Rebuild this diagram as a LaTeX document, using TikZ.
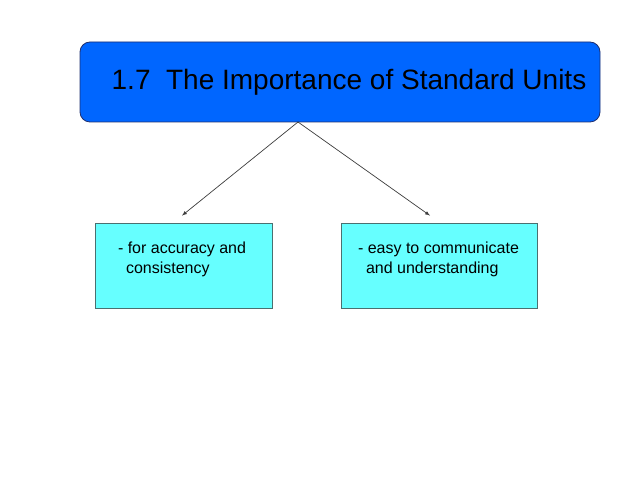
\documentclass[tikz,border=0pt]{standalone}
\usepackage{fontspec}
\setmainfont{Liberation Sans}
\usetikzlibrary{positioning}
\definecolor{titleblue}{HTML}{0066FF}
\definecolor{titleline}{HTML}{1F2F6F}
\definecolor{unitcyan}{HTML}{66FFFF}
\definecolor{unitline}{HTML}{4A7070}
\definecolor{arrowgray}{HTML}{3C3C3C}
\tikzset{
  titlebox/.style={draw=titleline, fill=titleblue, rounded corners=10pt, line width=0.8pt,
    minimum width=520pt, minimum height=80pt, inner sep=0pt,
    font=\fontsize{28pt}{34pt}\selectfont},
  unitbox/.style={draw=unitline, fill=unitcyan, line width=0.8pt,
    minimum height=85pt, inner sep=0pt, font=\fontsize{16pt}{20pt}\selectfont},
  link/.style={->, draw=arrowgray, line width=0.7pt}
}
\begin{document}
\begin{tikzpicture}[>=latex, x=1pt, y=-1pt]
    \useasboundingbox (0,0) rectangle (638,478);
    % Titel
    \node[titlebox] (title) at (340,82) {\hspace*{18pt}1.7\ \ The Importance of Standard Units};
    % Gruende
    \node[unitbox, minimum width=177pt] (accuracy) at (183.5,265.5)
        {\parbox[t][48pt][t]{131pt}{\raggedright - for accuracy and\\\hspace*{8pt}consistency}};
    \node[unitbox, minimum width=196pt] (communicate) at (439,265.5)
        {\parbox[t][48pt][t]{162pt}{\raggedright - easy to communicate\\\hspace*{8pt}and understanding}};
    \coordinate (split) at (298,122);
    \draw[link] (split) -- ([xshift=-1.5pt, yshift=7pt]accuracy.north);
    \draw[link] (split) -- ([xshift=-9pt, yshift=7pt]communicate.north);
\end{tikzpicture}
\end{document}
